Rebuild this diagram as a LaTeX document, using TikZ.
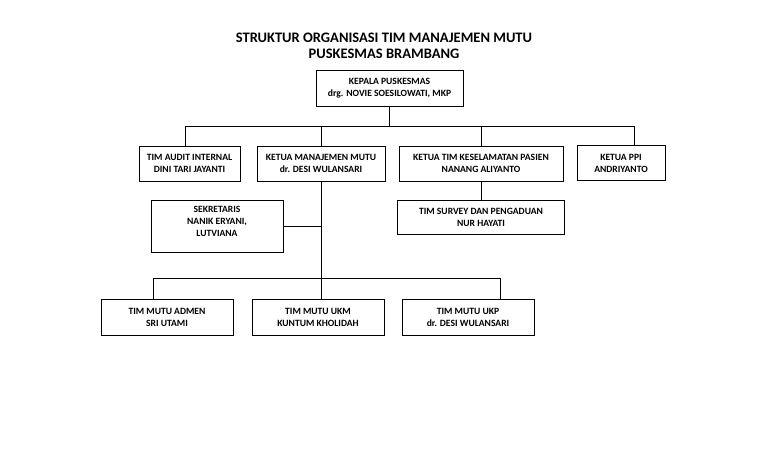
\documentclass[tikz,border=0pt]{standalone}
\usepackage{fontspec}
\setmainfont{Carlito}
\usetikzlibrary{positioning}
\begin{document}
\begin{tikzpicture}[
    x=1pt, y=-1pt,
    txt/.style={align=center, font=\bfseries\fontsize{9.6}{12}\selectfont},
    box/.style={txt, draw, line width=0.7pt, inner sep=0pt},
    link/.style={line width=0.7pt},
]
\useasboundingbox (0,0) rectangle (768,466);

\node (title) [align=center, font=\bfseries\fontsize{14.5}{15.5}\selectfont] at (384,46) {STRUKTUR ORGANISASI TIM MANAJEMEN MUTU\\PUSKESMAS BRAMBANG};

\node (kepala) [box, minimum width=147, minimum height=36] at (389.5,88) {KEPALA PUSKESMAS\\drg. NOVIE SOESILOWATI, MKP};

\node (audit) [box, minimum width=101, minimum height=35] at (189.5,163.5) {TIM AUDIT INTERNAL\\DINI TARI JAYANTI};
\node (ketuamm) [box, minimum width=128, minimum height=35] at (321,163.5) {KETUA MANAJEMEN MUTU\\dr. DESI WULANSARI};
\node (ketuakp) [box, minimum width=164, minimum height=35] at (481,163.5) {KETUA TIM KESELAMATAN PASIEN\\NANANG ALIYANTO};
\node (ketuappi) [box, minimum width=88, minimum height=35] at (621,163) {KETUA PPI\\ANDRIYANTO};

\node (sekretaris) [box, minimum width=132, minimum height=52] at (217,226) {};
\node (sektext) [txt, below=3.5pt of sekretaris.north] {SEKRETARIS\\NANIK ERYANI,\\LUTVIANA};
\node (survey) [box, minimum width=167, minimum height=34] at (481,217) {TIM SURVEY DAN PENGADUAN\\NUR HAYATI};

\node (admen) [box, minimum width=132, minimum height=36] at (167,317) {TIM MUTU ADMEN\\SRI UTAMI};
\node (ukm) [box, minimum width=132, minimum height=36] at (318,317) {TIM MUTU UKM\\KUNTUM KHOLIDAH};
\node (ukp) [box, minimum width=132, minimum height=36] at (468,317) {TIM MUTU UKP\\dr. DESI WULANSARI};

\coordinate (bus1) at (389.5,126);
\coordinate (bus2) at (321,278);

\draw[link] (kepala.south) -- (bus1);
\draw[link] ([xshift=-4pt]audit.north) -- ([xshift=-4pt]audit.north |- bus1) -- ([xshift=13pt]ketuappi.north |- bus1) -- ([xshift=13pt]ketuappi.north);
\foreach \n in {ketuamm, ketuakp}
    \draw[link] (\n.north) -- (\n.north |- bus1);
\draw[link] (ketuakp.south) -- (survey.north);
\draw[link] (ketuamm.south) -- (ketuamm.south |- ukm.north);
\draw[link] (sekretaris.east) -- (ketuamm.south |- sekretaris.east);
\draw[link] ([xshift=-14pt]admen.north) -- ([xshift=-14pt]admen.north |- bus2) -- ([xshift=32pt]ukp.north |- bus2) -- ([xshift=32pt]ukp.north);

\end{tikzpicture}
\end{document}
